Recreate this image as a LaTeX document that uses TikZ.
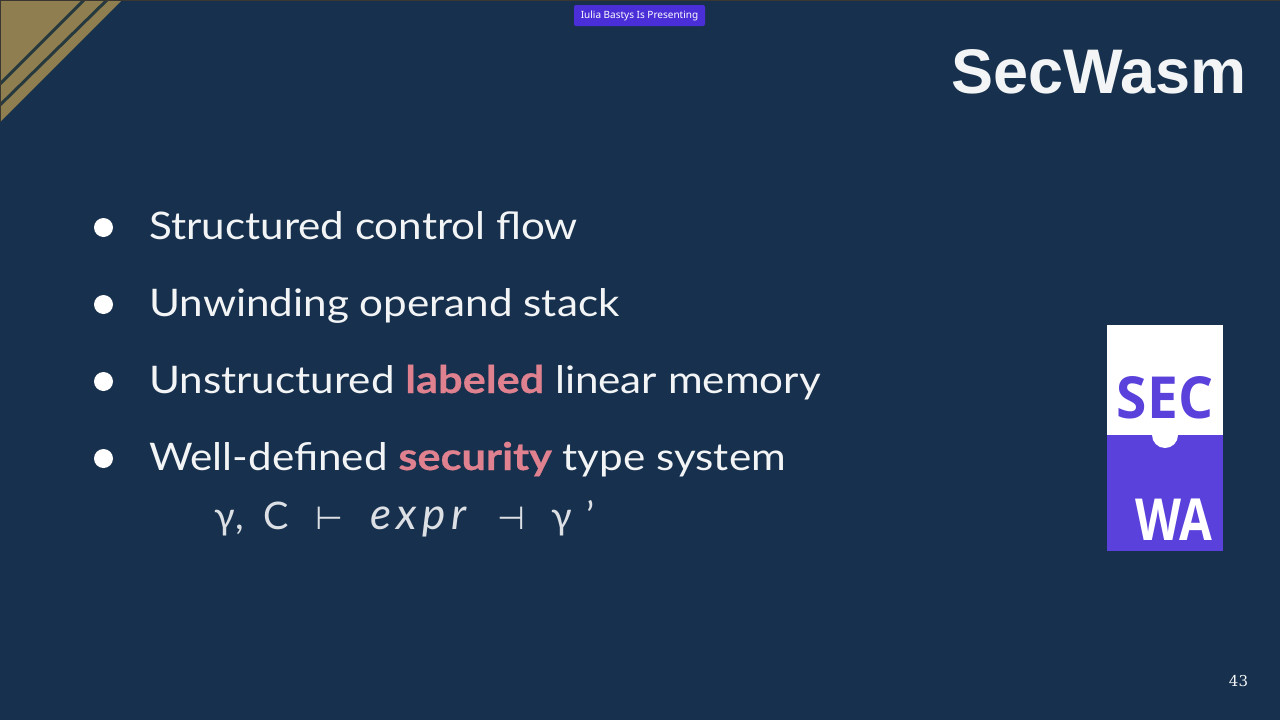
\documentclass[tikz,border=0pt]{standalone}
\usepackage{fontspec}
\setmainfont[FakeStretch=1.11]{Lato}
\newfontfamily\titlefont{Liberation Sans}
\newfontfamily\logofont[FakeStretch=.95]{Open Sans}
\newfontfamily\logonarrow[FakeStretch=.82]{Open Sans}
\newfontfamily\badgefont{Noto Sans}
\newfontfamily\pagefont{DejaVu Serif}
\newfontfamily\mathsymfont{DejaVu Sans}
\newfontfamily\formulafont[LetterSpace=6]{Lato}
\newfontfamily\exprfont[LetterSpace=12,ItalicFont={Lato Italic}]{Lato}
\newfontfamily\keyfont[FakeStretch=1.14,FakeBold=.5]{Lato Bold}
\definecolor{slidebg}{HTML}{17304D}
\definecolor{cornergold}{HTML}{8F7F50}
\definecolor{stripedark}{HTML}{26393F}
\definecolor{framedark}{HTML}{3A3630}
\definecolor{bodywhite}{HTML}{F2F4F5}
\definecolor{keypink}{HTML}{E0818F}
\definecolor{logopurple}{HTML}{5A41DC}
\definecolor{badgeblue}{HTML}{4A2FD8}
\tikzset{
	bulletdot/.style={circle,fill=white,inner sep=0pt,minimum size=19pt},
	itemtext/.style={anchor=base west,inner sep=0pt,text=bodywhite,font=\fontsize{38}{38}\selectfont},
	logotext/.style={anchor=base,inner sep=0pt,font=\bfseries\fontsize{58}{58}\selectfont},
	formulatext/.style={anchor=base west,inner sep=0pt,text=bodywhite!90!slidebg,font=\formulafont\fontsize{38}{38}\selectfont}
}
\newcommand{\keyword}[1]{\textcolor{keypink}{\keyfont #1}}
\newcommand{\symbolglyph}[1]{{\mathsymfont\fontsize{32}{32}\selectfont #1}}
\begin{document}
\begin{tikzpicture}[x=1pt,y=-1pt]
	\useasboundingbox (0,0) rectangle (1280,720);
	\fill[slidebg](0,0)rectangle(1280,720);
	% corner
	\fill[cornergold](0,0)--(122,0)--(0,122)--cycle;
	\draw[stripedark,line width=3pt](84,0)--(0,84);
	\draw[stripedark,line width=3pt](107,0)--(0,105);
	\fill[framedark](0,0)rectangle(1280,1.2);
	\fill[framedark](0,0)rectangle(1.2,122);
	% presenter badge
	\node[fill=badgeblue,rounded corners=2pt,minimum width=131pt,minimum height=21pt,inner sep=0pt,text=white,font=\badgefont\bfseries\fontsize{10}{10}\selectfont] (badge) at (639.5,15.5) {Iulia Bastys Is Presenting};
	% title
	\node[anchor=base east,inner sep=0pt,text=bodywhite,font=\titlefont\bfseries\fontsize{63}{63}\selectfont] (title) at (1247,93) {SecWasm};
	% items
	\node[bulletdot] (dota) at (103.5,227.5) {};
	\node[bulletdot] (dotb) at (103.5,304.5) {};
	\node[bulletdot] (dotc) at (103.5,381.5) {};
	\node[bulletdot] (dotd) at (103.5,458.5) {};
	\node[itemtext] (flow) at (149,239) {Structured control f{}low};
	\node[itemtext] (stack) at (149,316) {Unwinding operand stack};
	\node[itemtext] (memory) at (149,393) {Unstructured \keyword{labeled} linear memory};
	\node[itemtext] (types) at (149,470) {Well-defined \keyword{security} type system};
	% judgement
	\node[formulatext] (judgement) at (214,529) {γ,\hspace{19pt}C\hspace{27pt}\symbolglyph{⊢}\hspace{27pt}{\exprfont\itshape\fontsize{44}{44}\selectfont expr}\hspace{31pt}\symbolglyph{⊣}\hspace{26pt}γ\hspace{15pt}’};
	% logo
	\fill[white](1107,325)rectangle(1223,435);
	\fill[logopurple](1107,435)rectangle(1223,551);
	\fill[white](1152,435)arc[start angle=180,end angle=0,radius=13]--cycle;
	\node[logotext,text=logopurple] (sec) at (1165,418.5) {\logofont SEC};
	\node[logotext,text=white] (wa) at (1173.5,540) {\logonarrow WA};
	% page number
	\node[anchor=base,inner sep=0pt,text=bodywhite,font=\pagefont\fontsize{15}{15}\selectfont] (pagenum) at (1238.5,686) {43};
\end{tikzpicture}
\end{document}
